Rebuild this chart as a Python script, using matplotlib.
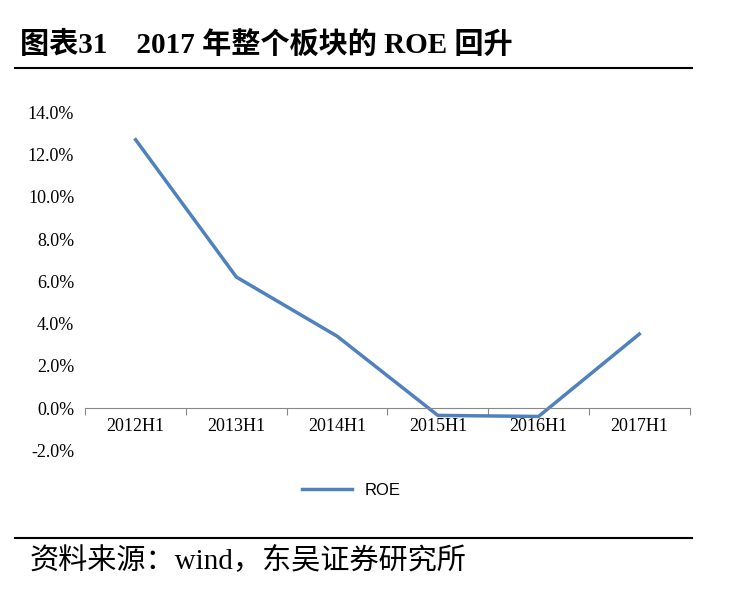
import matplotlib.pyplot as plt
from matplotlib.lines import Line2D

periods = ['2012H1', '2013H1', '2014H1', '2015H1', '2016H1', '2017H1']
roe = [12.7, 6.2, 3.4, -0.35, -0.4, 3.5]
yticks = [-2, 0, 2, 4, 6, 8, 10, 12, 14]

serif = ['Liberation Serif', 'Noto Sans CJK SC']
fig = plt.figure(figsize=(7.48, 5.94), dpi=100)
ax = fig.add_axes([0.114, 0.242, 0.808, 0.569])

ax.plot(range(len(periods)), roe, color='#4F81BD', linewidth=2.5)
ax.set_xlim(-0.5, len(periods) - 0.5)
ax.set_ylim(-2, 14)
ax.set_yticks(yticks)
ax.set_yticklabels([f'{v:.1f}%' for v in yticks], fontfamily=serif, fontsize=13)
ax.tick_params(axis='y', length=0, pad=8)

for s in ['top', 'right', 'left']:
    ax.spines[s].set_visible(False)
ax.spines['bottom'].set_position(('data', 0))
ax.spines['bottom'].set_color('#888888')
ax.set_xticks([i - 0.5 for i in range(len(periods) + 1)], minor=False)
ax.set_xticklabels([])
ax.tick_params(axis='x', length=5, color='#888888')
for i, p in enumerate(periods):
    ax.text(i, -0.45, p, ha='center', va='top', fontfamily=serif, fontsize=13)

ax.legend(handles=[Line2D([], [], color='#4F81BD', linewidth=2.5, label='ROE')],
          loc='center', bbox_to_anchor=(0.44, -0.12), frameon=False,
          prop={'family': 'Liberation Sans', 'size': 12}, handlelength=3)

fig.text(0.027, 0.925, '图表31    2017 年整个板块的 ROE 回升', fontfamily=serif,
         fontsize=21, fontweight='bold', va='center')
fig.add_artist(Line2D([0.02, 0.925], [0.886, 0.886], color='black', linewidth=1.5))
fig.add_artist(Line2D([0.02, 0.925], [0.094, 0.094], color='black', linewidth=1.5))
fig.text(0.04, 0.055, '资料来源：wind，东吴证券研究所', fontfamily=serif,
         fontsize=21, va='center')

fig.savefig('out.png')
